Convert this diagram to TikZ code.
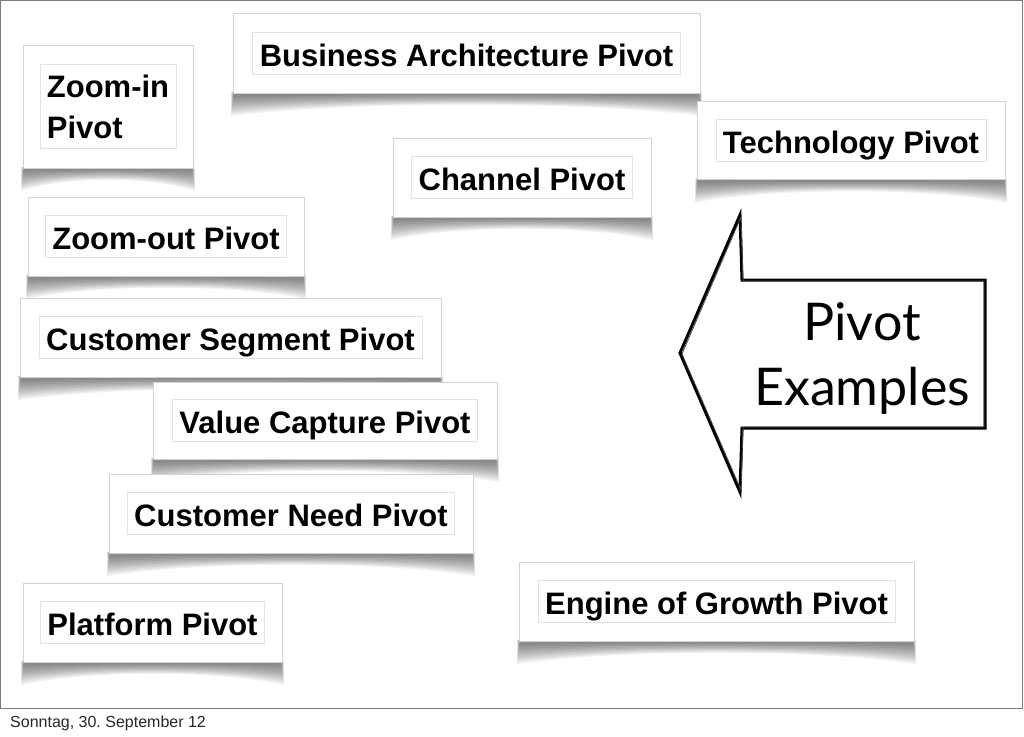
\documentclass[tikz,border=0pt]{standalone}
\usepackage{fontspec}
\newfontfamily\cardfont{Liberation Sans}
\newfontfamily\signfont{Lato}
\usetikzlibrary{calc}
\definecolor{Frame}{HTML}{7A7A7A}
\definecolor{TagLine}{HTML}{E2E2E2}
\definecolor{CardEdge}{HTML}{D2D2D2}

\begin{document}
\begin{tikzpicture}[x=1pt,y=-1pt,
    card/.style={draw=CardEdge,fill=white,line width=0.6pt,inner sep=0pt},
    tag/.style={draw=TagLine,line width=0.6pt,inner xsep=7pt,inner ysep=6pt,
                text height=28pt,text depth=2pt,align=left,
                font=\cardfont\bfseries\fontsize{31}{41}\selectfont},
    tagtwo/.style={tag,text height=68pt,text depth=4pt},
    blur/.style={fill=black,opacity=0.06},
    sign/.style={line width=3pt,line join=miter,draw=black}]
  \useasboundingbox (0,0) rectangle (1024,736);
  \draw[Frame,line width=1pt] (0.5,0.5) rectangle (1022.5,708);

  % cards: name/centre x/centre y/width/height/tag style/text
  \foreach \n/\x/\y/\w/\h/\s/\txt in {
      bizarch/466.5/53/467/80/tag/{Business Architecture Pivot},
      zoomin/108/106.5/170/123/tagtwo/{Zoom-in\\Pivot},
      tech/851/140.5/308/78/tag/{Technology Pivot},
      channel/522/177.5/258/79/tag/{Channel Pivot},
      zoomout/166/236.5/276/79/tag/{Zoom-out Pivot},
      custseg/230.5/337.5/421/79/tag/{Customer Segment Pivot},
      valcap/325/420.5/344/77/tag/{Value Capture Pivot},
      custneed/291/513.5/364/79/tag/{Customer Need Pivot},
      growth/716.5/601.5/395/79/tag/{Engine of Growth Pivot},
      platform/152.5/622.5/259/79/tag/{Platform Pivot}}{%
    % soft lifted-corner shadow, built from stacked layers
    \foreach \k in {0,...,9}{%
      \fill[blur]
        ({\x-\w/2-2+0.3*\k},{\y+\h/2-1}) -- ({\x-\w/2-2+0.3*\k},{\y+\h/2+23-2.1*\k})
        .. controls ({\x-\w/4},{\y+\h/2+8-0.7*\k}) and ({\x+\w/4},{\y+\h/2+8-0.7*\k}) ..
        ({\x+\w/2+2-0.3*\k},{\y+\h/2+23-2.1*\k}) -- ({\x+\w/2+2-0.3*\k},{\y+\h/2-1}) -- cycle;
    }
    \node[card,minimum width=\w pt,minimum height=\h pt] (\n) at (\x,\y) {};
    \node[\s] (\n-tag) at (\n.center) {\txt};
  }

  % hand-drawn sign arrow
  \draw[sign] (680,353) -- (740,215) -- (742,280) -- (985,280)
    -- (985,428) -- (742,428) -- (740,492) -- cycle;
  \draw[black!70,line width=0.8pt,line join=miter] (682,354) -- (741,217)
    -- (743,281) -- (984,281) -- (984,427) -- (743,427) -- (741,490) -- cycle;
  \node[font=\signfont\fontsize{52}{65}\selectfont,align=center] (signtext)
    at (862,358) {Pivot\\Examples};

  \node[anchor=base west,inner sep=0pt,text=black!85,
        font=\cardfont\fontsize{16}{19}\selectfont] (date)
    at (10,727) {Sonntag, 30.\ September 12};
\end{tikzpicture}
\end{document}
